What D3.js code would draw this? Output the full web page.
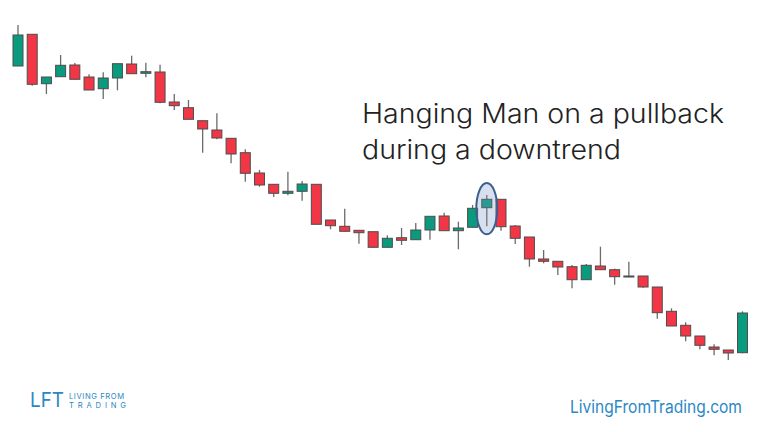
<!DOCTYPE html>
<html>
<head>
<meta charset="utf-8">
<script src="https://cdn.jsdelivr.net/npm/d3@7/dist/d3.min.js"></script>
<style>
  html, body { margin: 0; padding: 0; background: #ffffff; }
  svg { display: block; }
</style>
</head>
<body>
<svg id="chart" width="768" height="432"></svg>
<script>
// ---- Data (price units) ----
const opens  = [334,365.7,316.3,323.3,335,323,311.3,322,336,326.7,328,298,292.3,279.3,270,261.7,247.3,227,215.7,206.7,208.7,215.7,180,173.7,169.7,168.3,152.7,162.3,160.3,170,184,169.3,172.7,192.3,200.7,174,163,141,138.7,133.3,120.3,134,130.3,124,124,113,88.7,74.7,64,53,50,47.3];
const closes = [365,315.7,323,334.7,320.7,310,322,336.3,326.3,328.3,297.7,294.3,280.7,271,262,246,226.7,215,206.7,208.7,216,175.7,174.3,168.7,167.3,152.7,161.7,159.7,170,183.7,169.3,172,191.7,200.7,173.3,161.7,141,138.7,133,120.3,134.7,130.3,123.3,123,113,87.3,74,64,54.7,50.7,47,87];
const highs  = [375,365.7,323,345,337,325.7,327.7,336.3,344.3,337.3,335.3,306,300,279.3,286.7,261.7,250.7,230,215.7,228.3,219,215.7,180,191.3,169.7,168.3,164.7,172,177,183.7,187.3,178.3,195,205,200.7,175,163,150,138.7,135,136,153.3,131.3,138.3,124,113,91.7,77.7,64,55.7,50,88.7];
const lows   = [334,314.3,306,323.3,320.7,310,301,309.7,326.3,322.7,296.7,290,280.7,247.3,260.7,236.7,218.3,213.3,203,204.7,199.3,175.7,170.7,168.7,156.3,152.7,152.7,155,160.3,160.3,169.3,150.7,172.7,173.7,169.3,156,133.3,136.7,125,111.7,120.3,130.3,115.3,122.7,112.3,81.3,74,58.7,50.7,44.7,40,46.7];
const highlightIndex = 33; // the hanging man
const titleLines = ["Hanging Man on a pullback", "during a downtrend"];
const siteLabel = "LivingFromTrading.com";
const logoMain = "LFT";
const logoSub = ["LIVING FROM", "TRADING"];

const candles = opens.map((o, i) => ({ i, o, c: closes[i], h: highs[i], l: lows[i] }));

const svg = d3.select("#chart");
const x = d3.scalePoint().domain(d3.range(candles.length)).range([18, 742.5]);
const y = d3.scaleLinear().domain([0, 400]).range([400, 0]);
const bodyW = 10;

const GREEN = "#0a9a7d", RED = "#f23645";

// highlight ellipse fill (behind candles)
const hm = candles[highlightIndex];
const midY = (y(hm.h) + y(hm.l)) / 2 - 2;
const ry = (y(hm.l) - y(hm.h)) / 2 + 10;
svg.append("ellipse")
  .attr("cx", x(hm.i)).attr("cy", midY)
  .attr("rx", 10.5).attr("ry", ry)
  .attr("fill", "#dbe4f0");

const g = svg.append("g");

// wicks
g.selectAll("line.wick").data(candles).join("line")
  .attr("class", "wick")
  .attr("x1", d => x(d.i)).attr("x2", d => x(d.i))
  .attr("y1", d => y(d.h)).attr("y2", d => y(d.l))
  .attr("stroke", "#6b6b6b").attr("stroke-width", 1.3);

// bodies
g.selectAll("rect.body").data(candles).join("rect")
  .attr("class", "body")
  .attr("x", d => x(d.i) - bodyW / 2)
  .attr("width", bodyW)
  .attr("y", d => y(Math.max(d.o, d.c)))
  .attr("height", d => Math.max(1, Math.abs(y(d.o) - y(d.c))))
  .attr("fill", d => d.i === highlightIndex ? "#14968a" : (d.c >= d.o ? GREEN : RED))
  .attr("stroke", "#4d4d4d").attr("stroke-width", 1);

// highlight ellipse outline (on top)
svg.append("ellipse")
  .attr("cx", x(hm.i)).attr("cy", midY)
  .attr("rx", 10.5).attr("ry", ry)
  .attr("fill", "rgba(180,200,228,0.12)")
  .attr("stroke", "#3e5f8e").attr("stroke-width", 2);

// title
const title = svg.append("text")
  .attr("font-family", "Inter, sans-serif").attr("font-size", 26.5)
  .attr("font-weight", 300)
  .attr("fill", "#222");
title.selectAll("tspan").data(titleLines).join("tspan")
  .attr("x", 362).attr("y", (d, i) => 123 + i * 35.5)
  .attr("textLength", (d, i) => i === 0 ? 362 : 259)
  .attr("lengthAdjust", "spacingAndGlyphs")
  .text(d => d);

// website label
svg.append("text")
  .attr("x", 570).attr("y", 413)
  .attr("font-family", "Inter, sans-serif").attr("font-size", 17)
  .attr("fill", "#2b88c5")
  .attr("textLength", 172).attr("lengthAdjust", "spacingAndGlyphs")
  .text(siteLabel);

// logo
svg.append("text")
  .attr("x", 30).attr("y", 407)
  .attr("font-family", "Inter, sans-serif").attr("font-size", 20)
  .attr("fill", "#2b88c5")
  .attr("textLength", 34).attr("lengthAdjust", "spacingAndGlyphs")
  .text(logoMain);
svg.append("text")
  .attr("x", 69).attr("y", 399.3)
  .attr("font-family", "Inter, sans-serif").attr("font-size", 7.6)
  .attr("fill", "#2b88c5")
  .attr("textLength", 55).attr("lengthAdjust", "spacing")
  .text(logoSub[0]);
svg.append("text")
  .attr("x", 69).attr("y", 407.5)
  .attr("font-family", "Inter, sans-serif").attr("font-size", 7.6)
  .attr("fill", "#2b88c5")
  .attr("textLength", 57).attr("lengthAdjust", "spacing")
  .text(logoSub[1]);
</script>
</body>
</html>
